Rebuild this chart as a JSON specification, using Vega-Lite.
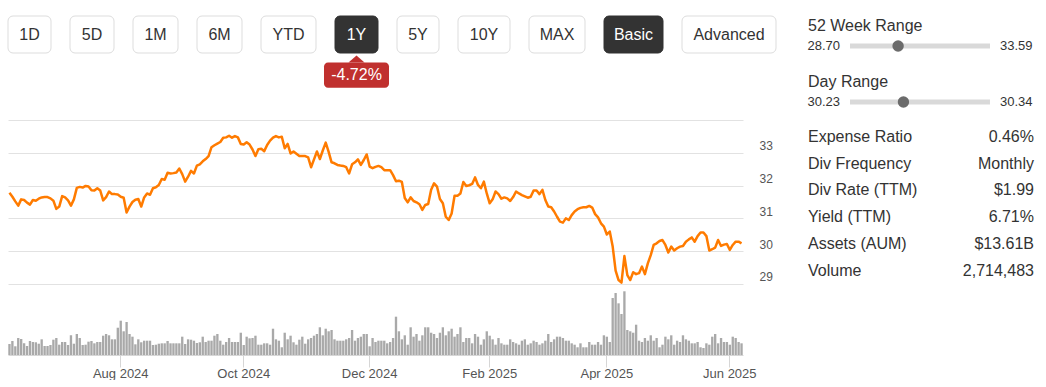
{
"$schema":"https://vega.github.io/schema/vega-lite/v6.json",
"padding":{"left":7,"top":15,"right":5,"bottom":0},
"background":"white",
"config":{"font":"Liberation Sans","view":{"stroke":null}},
"spacing":30,
"hconcat":[
{"spacing":1,"vconcat":[
 {"spacing":19,"bounds":"flush","hconcat":[
  {"width":43,"height":37,"data":{"values":[{"b":"1D"}]},"layer":[{"mark":{"type":"rect","fill":"#ffffff","stroke":"#dddddd","cornerRadius":5},"encoding":{"x":{"datum":0,"type":"quantitative","scale":{"domain":[0,1],"nice":false},"axis":null},"x2":{"datum":1},"y":{"datum":0,"type":"quantitative","scale":{"domain":[0,1],"nice":false},"axis":null},"y2":{"datum":1}}},{"mark":{"type":"text","fontSize":16,"color":"#333333"},"encoding":{"text":{"field":"b"},"x":{"datum":0.5,"type":"quantitative"},"y":{"datum":0.5,"type":"quantitative"}}}]},
  {"width":44,"height":37,"data":{"values":[{"b":"5D"}]},"layer":[{"mark":{"type":"rect","fill":"#ffffff","stroke":"#dddddd","cornerRadius":5},"encoding":{"x":{"datum":0,"type":"quantitative","scale":{"domain":[0,1],"nice":false},"axis":null},"x2":{"datum":1},"y":{"datum":0,"type":"quantitative","scale":{"domain":[0,1],"nice":false},"axis":null},"y2":{"datum":1}}},{"mark":{"type":"text","fontSize":16,"color":"#333333"},"encoding":{"text":{"field":"b"},"x":{"datum":0.5,"type":"quantitative"},"y":{"datum":0.5,"type":"quantitative"}}}]},
  {"width":45,"height":37,"data":{"values":[{"b":"1M"}]},"layer":[{"mark":{"type":"rect","fill":"#ffffff","stroke":"#dddddd","cornerRadius":5},"encoding":{"x":{"datum":0,"type":"quantitative","scale":{"domain":[0,1],"nice":false},"axis":null},"x2":{"datum":1},"y":{"datum":0,"type":"quantitative","scale":{"domain":[0,1],"nice":false},"axis":null},"y2":{"datum":1}}},{"mark":{"type":"text","fontSize":16,"color":"#333333"},"encoding":{"text":{"field":"b"},"x":{"datum":0.5,"type":"quantitative"},"y":{"datum":0.5,"type":"quantitative"}}}]},
  {"width":45,"height":37,"data":{"values":[{"b":"6M"}]},"layer":[{"mark":{"type":"rect","fill":"#ffffff","stroke":"#dddddd","cornerRadius":5},"encoding":{"x":{"datum":0,"type":"quantitative","scale":{"domain":[0,1],"nice":false},"axis":null},"x2":{"datum":1},"y":{"datum":0,"type":"quantitative","scale":{"domain":[0,1],"nice":false},"axis":null},"y2":{"datum":1}}},{"mark":{"type":"text","fontSize":16,"color":"#333333"},"encoding":{"text":{"field":"b"},"x":{"datum":0.5,"type":"quantitative"},"y":{"datum":0.5,"type":"quantitative"}}}]},
  {"width":55,"height":37,"data":{"values":[{"b":"YTD"}]},"layer":[{"mark":{"type":"rect","fill":"#ffffff","stroke":"#dddddd","cornerRadius":5},"encoding":{"x":{"datum":0,"type":"quantitative","scale":{"domain":[0,1],"nice":false},"axis":null},"x2":{"datum":1},"y":{"datum":0,"type":"quantitative","scale":{"domain":[0,1],"nice":false},"axis":null},"y2":{"datum":1}}},{"mark":{"type":"text","fontSize":16,"color":"#333333"},"encoding":{"text":{"field":"b"},"x":{"datum":0.5,"type":"quantitative"},"y":{"datum":0.5,"type":"quantitative"}}}]},
  {"width":43,"height":37,"data":{"values":[{"b":"1Y"}]},"layer":[{"mark":{"type":"rect","fill":"#333333","stroke":"#333333","cornerRadius":5},"encoding":{"x":{"datum":0,"type":"quantitative","scale":{"domain":[0,1],"nice":false},"axis":null},"x2":{"datum":1},"y":{"datum":0,"type":"quantitative","scale":{"domain":[0,1],"nice":false},"axis":null},"y2":{"datum":1}}},{"mark":{"type":"text","fontSize":16,"color":"#ffffff"},"encoding":{"text":{"field":"b"},"x":{"datum":0.5,"type":"quantitative"},"y":{"datum":0.5,"type":"quantitative"}}}]},
  {"width":42,"height":37,"data":{"values":[{"b":"5Y"}]},"layer":[{"mark":{"type":"rect","fill":"#ffffff","stroke":"#dddddd","cornerRadius":5},"encoding":{"x":{"datum":0,"type":"quantitative","scale":{"domain":[0,1],"nice":false},"axis":null},"x2":{"datum":1},"y":{"datum":0,"type":"quantitative","scale":{"domain":[0,1],"nice":false},"axis":null},"y2":{"datum":1}}},{"mark":{"type":"text","fontSize":16,"color":"#333333"},"encoding":{"text":{"field":"b"},"x":{"datum":0.5,"type":"quantitative"},"y":{"datum":0.5,"type":"quantitative"}}}]},
  {"width":52,"height":37,"data":{"values":[{"b":"10Y"}]},"layer":[{"mark":{"type":"rect","fill":"#ffffff","stroke":"#dddddd","cornerRadius":5},"encoding":{"x":{"datum":0,"type":"quantitative","scale":{"domain":[0,1],"nice":false},"axis":null},"x2":{"datum":1},"y":{"datum":0,"type":"quantitative","scale":{"domain":[0,1],"nice":false},"axis":null},"y2":{"datum":1}}},{"mark":{"type":"text","fontSize":16,"color":"#333333"},"encoding":{"text":{"field":"b"},"x":{"datum":0.5,"type":"quantitative"},"y":{"datum":0.5,"type":"quantitative"}}}]},
  {"width":56,"height":37,"data":{"values":[{"b":"MAX"}]},"layer":[{"mark":{"type":"rect","fill":"#ffffff","stroke":"#dddddd","cornerRadius":5},"encoding":{"x":{"datum":0,"type":"quantitative","scale":{"domain":[0,1],"nice":false},"axis":null},"x2":{"datum":1},"y":{"datum":0,"type":"quantitative","scale":{"domain":[0,1],"nice":false},"axis":null},"y2":{"datum":1}}},{"mark":{"type":"text","fontSize":16,"color":"#333333"},"encoding":{"text":{"field":"b"},"x":{"datum":0.5,"type":"quantitative"},"y":{"datum":0.5,"type":"quantitative"}}}]},
  {"width":59,"height":37,"data":{"values":[{"b":"Basic"}]},"layer":[{"mark":{"type":"rect","fill":"#333333","stroke":"#333333","cornerRadius":5},"encoding":{"x":{"datum":0,"type":"quantitative","scale":{"domain":[0,1],"nice":false},"axis":null},"x2":{"datum":1},"y":{"datum":0,"type":"quantitative","scale":{"domain":[0,1],"nice":false},"axis":null},"y2":{"datum":1}}},{"mark":{"type":"text","fontSize":16,"color":"#ffffff"},"encoding":{"text":{"field":"b"},"x":{"datum":0.5,"type":"quantitative"},"y":{"datum":0.5,"type":"quantitative"}}}]},
  {"width":94,"height":37,"data":{"values":[{"b":"Advanced"}]},"layer":[{"mark":{"type":"rect","fill":"#ffffff","stroke":"#dddddd","cornerRadius":5},"encoding":{"x":{"datum":0,"type":"quantitative","scale":{"domain":[0,1],"nice":false},"axis":null},"x2":{"datum":1},"y":{"datum":0,"type":"quantitative","scale":{"domain":[0,1],"nice":false},"axis":null},"y2":{"datum":1}}},{"mark":{"type":"text","fontSize":16,"color":"#333333"},"encoding":{"text":{"field":"b"},"x":{"datum":0.5,"type":"quantitative"},"y":{"datum":0.5,"type":"quantitative"}}}]}
 ]},
 {"spacing":0,"bounds":"flush","hconcat":[
  {"width":316,"height":40,"data":{"values":[{}]},"mark":{"type":"text","text":""}},
  {"width":65,"height":40,"data":{"values":[{"chg":"-4.72%"}]},"layer":[
   {"mark":{"type":"rect","fill":"#c0302e","cornerRadius":4},"encoding":{"x":{"datum":0,"type":"quantitative","scale":{"domain":[0,1],"nice":false},"axis":null},"x2":{"datum":1},"y":{"datum":0.205,"type":"quantitative","scale":{"domain":[0,1],"nice":false},"axis":null},"y2":{"datum":0.8375}}},
   {"mark":{"type":"point","shape":"M-1,0L0,-0.875L1,0Z","size":256,"filled":true,"color":"#c0302e","opacity":1,"strokeWidth":0},"encoding":{"x":{"datum":0.5,"type":"quantitative"},"y":{"datum":0.8375,"type":"quantitative"}}},
   {"mark":{"type":"text","fontSize":16,"color":"#ffffff"},"encoding":{"text":{"field":"chg"},"x":{"datum":0.5,"type":"quantitative"},"y":{"datum":0.52,"type":"quantitative"}}}
  ]}
 ]},
 {"width":735,"height":258,
  "data":{"values":[
{"d":"2024-06-06","p":31.78,"v":2.55},{"d":"2024-06-07","p":31.66,"v":3.25},{"d":"2024-06-10","p":31.52,"v":2.02},{"d":"2024-06-11","p":31.39,"v":3.94},{"d":"2024-06-12","p":31.58,"v":3.71},{"d":"2024-06-13","p":31.56,"v":2.71},{"d":"2024-06-14","p":31.48,"v":2.09},{"d":"2024-06-17","p":31.42,"v":3.25},{"d":"2024-06-18","p":31.56,"v":3.02},{"d":"2024-06-20","p":31.54,"v":2.95},{"d":"2024-06-21","p":31.60,"v":2.62},{"d":"2024-06-24","p":31.64,"v":3.64},{"d":"2024-06-25","p":31.65,"v":2.09},{"d":"2024-06-26","p":31.65,"v":2.09},{"d":"2024-06-27","p":31.61,"v":2.32},{"d":"2024-06-28","p":31.54,"v":3.55},
{"d":"2024-07-01","p":31.29,"v":3.94},{"d":"2024-07-02","p":31.36,"v":2.39},{"d":"2024-07-03","p":31.68,"v":3.02},{"d":"2024-07-05","p":31.64,"v":3.02},{"d":"2024-07-08","p":31.55,"v":2.32},{"d":"2024-07-09","p":31.39,"v":4.57},{"d":"2024-07-10","p":31.58,"v":2.62},{"d":"2024-07-11","p":31.93,"v":4.87},{"d":"2024-07-12","p":31.96,"v":3.94},{"d":"2024-07-15","p":31.94,"v":2.32},{"d":"2024-07-16","p":31.99,"v":2.39},{"d":"2024-07-17","p":31.97,"v":3.09},{"d":"2024-07-18","p":31.86,"v":3.25},{"d":"2024-07-19","p":31.85,"v":2.71},{"d":"2024-07-22","p":31.92,"v":3.02},{"d":"2024-07-23","p":31.85,"v":3.02},{"d":"2024-07-24","p":31.55,"v":4.48},{"d":"2024-07-25","p":31.65,"v":4.87},{"d":"2024-07-26","p":31.82,"v":4.57},{"d":"2024-07-29","p":31.74,"v":3.64},{"d":"2024-07-30","p":31.74,"v":3.64},{"d":"2024-07-31","p":31.73,"v":6.33},
{"d":"2024-08-01","p":31.66,"v":7.96},{"d":"2024-08-02","p":31.63,"v":5.50},{"d":"2024-08-05","p":31.18,"v":7.66},{"d":"2024-08-06","p":31.36,"v":4.87},{"d":"2024-08-07","p":31.50,"v":4.25},{"d":"2024-08-08","p":31.57,"v":2.48},{"d":"2024-08-09","p":31.59,"v":3.64},{"d":"2024-08-12","p":31.36,"v":2.95},{"d":"2024-08-13","p":31.64,"v":3.32},{"d":"2024-08-14","p":31.76,"v":3.32},{"d":"2024-08-15","p":31.72,"v":3.32},{"d":"2024-08-16","p":31.92,"v":2.32},{"d":"2024-08-19","p":31.95,"v":2.39},{"d":"2024-08-20","p":32.02,"v":2.62},{"d":"2024-08-21","p":32.20,"v":2.71},{"d":"2024-08-22","p":32.18,"v":2.71},{"d":"2024-08-23","p":32.39,"v":3.25},{"d":"2024-08-26","p":32.37,"v":2.71},{"d":"2024-08-27","p":32.38,"v":2.71},{"d":"2024-08-28","p":32.40,"v":2.71},{"d":"2024-08-29","p":32.52,"v":2.71},{"d":"2024-08-30","p":32.35,"v":4.25},
{"d":"2024-09-03","p":32.12,"v":2.55},{"d":"2024-09-04","p":32.27,"v":3.64},{"d":"2024-09-05","p":32.45,"v":3.55},{"d":"2024-09-06","p":32.37,"v":3.32},{"d":"2024-09-09","p":32.61,"v":2.78},{"d":"2024-09-10","p":32.65,"v":2.95},{"d":"2024-09-11","p":32.74,"v":4.25},{"d":"2024-09-12","p":32.81,"v":3.02},{"d":"2024-09-13","p":32.90,"v":3.32},{"d":"2024-09-16","p":33.17,"v":3.32},{"d":"2024-09-17","p":33.23,"v":4.48},{"d":"2024-09-18","p":33.28,"v":4.87},{"d":"2024-09-19","p":33.33,"v":3.32},{"d":"2024-09-20","p":33.46,"v":2.39},{"d":"2024-09-23","p":33.47,"v":3.02},{"d":"2024-09-24","p":33.52,"v":3.94},{"d":"2024-09-25","p":33.46,"v":3.02},{"d":"2024-09-26","p":33.51,"v":3.02},{"d":"2024-09-27","p":33.47,"v":3.02},{"d":"2024-09-30","p":33.27,"v":5.17},
{"d":"2024-10-01","p":33.25,"v":2.32},{"d":"2024-10-02","p":33.32,"v":4.25},{"d":"2024-10-03","p":33.25,"v":3.87},{"d":"2024-10-04","p":33.10,"v":3.94},{"d":"2024-10-07","p":32.90,"v":4.48},{"d":"2024-10-08","p":33.11,"v":2.39},{"d":"2024-10-09","p":33.12,"v":2.39},{"d":"2024-10-10","p":33.05,"v":2.71},{"d":"2024-10-11","p":33.24,"v":2.71},{"d":"2024-10-14","p":33.37,"v":2.39},{"d":"2024-10-15","p":33.46,"v":6.10},{"d":"2024-10-16","p":33.51,"v":3.64},{"d":"2024-10-17","p":33.47,"v":3.32},{"d":"2024-10-18","p":33.49,"v":1.79},{"d":"2024-10-21","p":33.14,"v":5.17},{"d":"2024-10-22","p":33.27,"v":3.64},{"d":"2024-10-23","p":32.98,"v":4.48},{"d":"2024-10-24","p":33.04,"v":2.95},{"d":"2024-10-25","p":32.97,"v":2.39},{"d":"2024-10-28","p":32.90,"v":3.55},{"d":"2024-10-29","p":32.90,"v":4.25},{"d":"2024-10-30","p":32.90,"v":2.62},{"d":"2024-10-31","p":32.86,"v":3.64},
{"d":"2024-11-01","p":32.56,"v":3.94},{"d":"2024-11-04","p":32.80,"v":4.48},{"d":"2024-11-05","p":33.04,"v":4.87},{"d":"2024-11-06","p":32.81,"v":6.43},{"d":"2024-11-07","p":33.07,"v":4.57},{"d":"2024-11-08","p":33.31,"v":6.10},{"d":"2024-11-11","p":33.03,"v":5.50},{"d":"2024-11-12","p":32.71,"v":5.80},{"d":"2024-11-13","p":32.68,"v":3.64},{"d":"2024-11-14","p":32.63,"v":3.32},{"d":"2024-11-15","p":32.61,"v":3.32},{"d":"2024-11-18","p":32.60,"v":3.32},{"d":"2024-11-19","p":32.56,"v":3.64},{"d":"2024-11-20","p":32.37,"v":3.94},{"d":"2024-11-21","p":32.65,"v":5.80},{"d":"2024-11-22","p":32.71,"v":3.32},{"d":"2024-11-25","p":32.80,"v":3.94},{"d":"2024-11-26","p":32.63,"v":4.25},{"d":"2024-11-27","p":32.78,"v":4.87},{"d":"2024-11-29","p":32.95,"v":4.87},
{"d":"2024-12-02","p":32.58,"v":2.02},{"d":"2024-12-03","p":32.53,"v":3.94},{"d":"2024-12-04","p":32.57,"v":3.02},{"d":"2024-12-05","p":32.60,"v":3.32},{"d":"2024-12-06","p":32.56,"v":3.32},{"d":"2024-12-09","p":32.47,"v":3.32},{"d":"2024-12-10","p":32.47,"v":2.71},{"d":"2024-12-11","p":32.47,"v":3.02},{"d":"2024-12-12","p":32.32,"v":3.94},{"d":"2024-12-13","p":32.13,"v":8.89},{"d":"2024-12-16","p":32.15,"v":5.50},{"d":"2024-12-17","p":32.11,"v":3.64},{"d":"2024-12-18","p":31.62,"v":4.57},{"d":"2024-12-19","p":31.49,"v":2.39},{"d":"2024-12-20","p":31.64,"v":6.43},{"d":"2024-12-23","p":31.53,"v":4.25},{"d":"2024-12-24","p":31.49,"v":4.87},{"d":"2024-12-26","p":31.43,"v":3.32},{"d":"2024-12-27","p":31.26,"v":4.57},{"d":"2024-12-30","p":31.41,"v":6.43},{"d":"2024-12-31","p":31.44,"v":6.43},
{"d":"2025-01-02","p":31.87,"v":5.17},{"d":"2025-01-03","p":32.07,"v":4.87},{"d":"2025-01-06","p":31.97,"v":3.94},{"d":"2025-01-07","p":31.59,"v":5.17},{"d":"2025-01-08","p":31.46,"v":6.43},{"d":"2025-01-10","p":31.05,"v":4.57},{"d":"2025-01-13","p":30.95,"v":5.50},{"d":"2025-01-14","p":31.15,"v":6.10},{"d":"2025-01-15","p":31.69,"v":4.25},{"d":"2025-01-16","p":31.69,"v":4.87},{"d":"2025-01-17","p":31.76,"v":6.43},{"d":"2025-01-21","p":32.11,"v":3.02},{"d":"2025-01-22","p":31.99,"v":3.94},{"d":"2025-01-23","p":32.01,"v":3.94},{"d":"2025-01-24","p":32.05,"v":2.71},{"d":"2025-01-27","p":32.25,"v":4.87},{"d":"2025-01-28","p":32.02,"v":4.25},{"d":"2025-01-29","p":31.92,"v":2.39},{"d":"2025-01-30","p":32.12,"v":3.64},{"d":"2025-01-31","p":31.76,"v":5.50},
{"d":"2025-02-03","p":31.46,"v":4.48},{"d":"2025-02-04","p":31.58,"v":3.64},{"d":"2025-02-05","p":31.82,"v":2.39},{"d":"2025-02-06","p":31.74,"v":3.94},{"d":"2025-02-07","p":31.60,"v":2.71},{"d":"2025-02-10","p":31.64,"v":2.39},{"d":"2025-02-11","p":31.61,"v":2.39},{"d":"2025-02-12","p":31.53,"v":3.64},{"d":"2025-02-13","p":31.65,"v":3.02},{"d":"2025-02-14","p":31.82,"v":2.71},{"d":"2025-02-18","p":31.76,"v":2.39},{"d":"2025-02-19","p":31.71,"v":3.32},{"d":"2025-02-20","p":31.67,"v":3.64},{"d":"2025-02-21","p":31.63,"v":2.39},{"d":"2025-02-24","p":31.66,"v":2.71},{"d":"2025-02-25","p":31.85,"v":3.32},{"d":"2025-02-26","p":31.85,"v":3.02},{"d":"2025-02-27","p":31.74,"v":2.39},{"d":"2025-02-28","p":31.87,"v":2.71},
{"d":"2025-03-03","p":31.56,"v":3.32},{"d":"2025-03-04","p":31.36,"v":4.87},{"d":"2025-03-05","p":31.34,"v":3.02},{"d":"2025-03-06","p":31.21,"v":3.64},{"d":"2025-03-07","p":31.05,"v":4.25},{"d":"2025-03-10","p":30.90,"v":4.25},{"d":"2025-03-11","p":30.87,"v":3.94},{"d":"2025-03-12","p":31.00,"v":3.32},{"d":"2025-03-13","p":30.95,"v":3.32},{"d":"2025-03-14","p":31.10,"v":2.71},{"d":"2025-03-17","p":31.21,"v":2.39},{"d":"2025-03-18","p":31.28,"v":1.79},{"d":"2025-03-19","p":31.32,"v":2.71},{"d":"2025-03-20","p":31.34,"v":1.79},{"d":"2025-03-21","p":31.34,"v":1.79},{"d":"2025-03-24","p":31.38,"v":3.02},{"d":"2025-03-25","p":31.33,"v":2.39},{"d":"2025-03-26","p":31.13,"v":2.39},{"d":"2025-03-27","p":31.03,"v":3.02},{"d":"2025-03-28","p":30.85,"v":2.39},{"d":"2025-03-31","p":30.75,"v":4.57},
{"d":"2025-04-01","p":30.51,"v":4.25},{"d":"2025-04-02","p":30.60,"v":3.02},{"d":"2025-04-03","p":30.14,"v":13.22},{"d":"2025-04-04","p":29.41,"v":14.38},{"d":"2025-04-07","p":29.12,"v":11.99},{"d":"2025-04-08","p":29.04,"v":9.51},{"d":"2025-04-09","p":29.85,"v":14.78},{"d":"2025-04-10","p":29.27,"v":5.80},{"d":"2025-04-11","p":29.12,"v":5.50},{"d":"2025-04-14","p":29.36,"v":5.17},{"d":"2025-04-15","p":29.30,"v":7.03},{"d":"2025-04-16","p":29.33,"v":3.32},{"d":"2025-04-17","p":29.53,"v":3.02},{"d":"2025-04-21","p":29.30,"v":3.94},{"d":"2025-04-22","p":29.63,"v":3.32},{"d":"2025-04-23","p":29.88,"v":4.57},{"d":"2025-04-24","p":30.19,"v":3.32},{"d":"2025-04-25","p":30.24,"v":3.94},{"d":"2025-04-28","p":30.31,"v":1.79},{"d":"2025-04-29","p":30.34,"v":2.39},{"d":"2025-04-30","p":30.19,"v":4.25},
{"d":"2025-05-01","p":29.96,"v":3.64},{"d":"2025-05-02","p":30.14,"v":4.57},{"d":"2025-05-05","p":30.02,"v":2.39},{"d":"2025-05-06","p":30.09,"v":3.32},{"d":"2025-05-07","p":30.14,"v":3.02},{"d":"2025-05-08","p":30.16,"v":4.57},{"d":"2025-05-09","p":30.29,"v":3.64},{"d":"2025-05-12","p":30.36,"v":3.32},{"d":"2025-05-13","p":30.42,"v":2.71},{"d":"2025-05-14","p":30.29,"v":2.71},{"d":"2025-05-15","p":30.46,"v":3.02},{"d":"2025-05-16","p":30.57,"v":1.79},{"d":"2025-05-19","p":30.57,"v":1.62},{"d":"2025-05-20","p":30.46,"v":2.71},{"d":"2025-05-21","p":30.02,"v":2.39},{"d":"2025-05-22","p":30.06,"v":4.25},{"d":"2025-05-23","p":30.11,"v":4.87},{"d":"2025-05-27","p":30.34,"v":2.71},{"d":"2025-05-28","p":30.16,"v":3.94},{"d":"2025-05-29","p":30.20,"v":3.02},{"d":"2025-05-30","p":30.22,"v":3.02},
{"d":"2025-06-02","p":30.04,"v":2.39},{"d":"2025-06-03","p":30.19,"v":4.25},{"d":"2025-06-04","p":30.29,"v":3.94},{"d":"2025-06-05","p":30.29,"v":3.02},{"d":"2025-06-06","p":30.24,"v":2.71}
  ]},
  "layer":[
   {"mark":{"type":"bar","color":"#a9a9a9"},
    "encoding":{
     "x":{"field":"d","type":"ordinal","scale":{"type":"band","paddingInner":0.2,"paddingOuter":0.1},
          "axis":{"values":["2024-08-01","2024-10-01","2024-12-02","2025-02-03","2025-04-01","2025-06-02"],"labelExpr":"utcFormat(toDate(datum.value), '%b %Y')","labelAngle":0,"title":null,"grid":false,"domainColor":"#d6d6d6","tickColor":"#d6d6d6","tickSize":12,"labelFontSize":13,"labelColor":"#555555","labelPadding":0}},
     "y":{"field":"v","type":"quantitative","scale":{"domain":[0,59.86],"nice":false},"axis":null}}},
   {"mark":{"type":"line","color":"#ff7b00","strokeWidth":2.5,"strokeJoin":"round"},
    "encoding":{
     "x":{"field":"d","type":"ordinal","bandPosition":0.5},
     "y":{"field":"p","type":"quantitative","scale":{"domain":[26.835,34.701],"nice":false,"zero":false},
          "axis":{"orient":"right","values":[29,30,31,32,33,34],"labelExpr":"datum.value == 34 ? '' : datum.label","grid":true,"gridColor":"#e2e2e2","domain":false,"ticks":false,"labelPadding":16,"labelFontSize":12,"labelColor":"#555555","labelBaseline":"middle","labelOffset":-7,"title":null}}}}
  ],
  "resolve":{"scale":{"y":"independent"}}
 }
]},
{"spacing":16,"bounds":"flush","vconcat":[
 {"width":226,"height":40,"data":{"values":[{"name":"52 Week Range","lo":28.70,"hi":33.59,"pos":30.38}]},"layer":[
  {"mark":{"type":"text","align":"left","fontSize":16,"color":"#333333"},"encoding":{"text":{"field":"name"},"x":{"datum":27.233,"type":"quantitative","scale":{"domain":[27.233,35.127],"nice":false,"zero":false},"axis":null},"y":{"datum":"title","type":"nominal","scale":{"type":"point","domain":["title","bar"],"padding":0.5},"axis":null}}},
  {"mark":{"type":"rule","color":"#d9d9d9","strokeWidth":5},"encoding":{"x":{"field":"lo","type":"quantitative"},"x2":{"field":"hi"},"y":{"datum":"bar","type":"nominal"}}},
  {"mark":{"type":"point","filled":true,"color":"#6b6b6b","size":130,"opacity":1},"encoding":{"x":{"field":"pos","type":"quantitative"},"y":{"datum":"bar","type":"nominal"}}},
  {"mark":{"type":"text","align":"right","dx":-10,"fontSize":13,"color":"#333333"},"encoding":{"text":{"field":"lo","type":"quantitative","format":".2f"},"x":{"field":"lo","type":"quantitative"},"y":{"datum":"bar","type":"nominal"}}},
  {"mark":{"type":"text","align":"left","dx":10,"fontSize":13,"color":"#333333"},"encoding":{"text":{"field":"hi","type":"quantitative","format":".2f"},"x":{"field":"hi","type":"quantitative"},"y":{"datum":"bar","type":"nominal"}}}
 ]},
 {"width":226,"height":40,"data":{"values":[{"name":"Day Range","lo":30.23,"hi":30.34,"pos":30.272}]},"layer":[
  {"mark":{"type":"text","align":"left","fontSize":16,"color":"#333333"},"encoding":{"text":{"field":"name"},"x":{"datum":30.197,"type":"quantitative","scale":{"domain":[30.197,30.3746],"nice":false,"zero":false},"axis":null},"y":{"datum":"title","type":"nominal","scale":{"type":"point","domain":["title","bar"],"padding":0.5},"axis":null}}},
  {"mark":{"type":"rule","color":"#d9d9d9","strokeWidth":5},"encoding":{"x":{"field":"lo","type":"quantitative"},"x2":{"field":"hi"},"y":{"datum":"bar","type":"nominal"}}},
  {"mark":{"type":"point","filled":true,"color":"#6b6b6b","size":130,"opacity":1},"encoding":{"x":{"field":"pos","type":"quantitative"},"y":{"datum":"bar","type":"nominal"}}},
  {"mark":{"type":"text","align":"right","dx":-10,"fontSize":13,"color":"#333333"},"encoding":{"text":{"field":"lo","type":"quantitative","format":".2f"},"x":{"field":"lo","type":"quantitative"},"y":{"datum":"bar","type":"nominal"}}},
  {"mark":{"type":"text","align":"left","dx":10,"fontSize":13,"color":"#333333"},"encoding":{"text":{"field":"hi","type":"quantitative","format":".2f"},"x":{"field":"hi","type":"quantitative"},"y":{"datum":"bar","type":"nominal"}}}
 ]},
 {"width":226,"height":151.5,"data":{"values":[{"k":"Expense Ratio","val":"0.46%"},{"k":"Div Frequency","val":"Monthly"},{"k":"Div Rate (TTM)","val":"$1.99"},{"k":"Yield (TTM)","val":"6.71%"},{"k":"Assets (AUM)","val":"$13.61B"},{"k":"Volume","val":"2,714,483"}]},
  "layer":[
   {"mark":{"type":"text","align":"left","fontSize":16,"color":"#333333"},"encoding":{"text":{"field":"k"},"x":{"datum":0,"type":"quantitative","scale":{"domain":[0,1],"nice":false},"axis":null},"y":{"field":"k","type":"nominal","sort":null,"scale":{"type":"point","padding":0.337},"axis":null}}},
   {"mark":{"type":"text","align":"right","fontSize":16,"color":"#333333"},"encoding":{"text":{"field":"val"},"x":{"datum":1,"type":"quantitative"},"y":{"field":"k","type":"nominal","sort":null}}}
  ]}
]}
]
}
